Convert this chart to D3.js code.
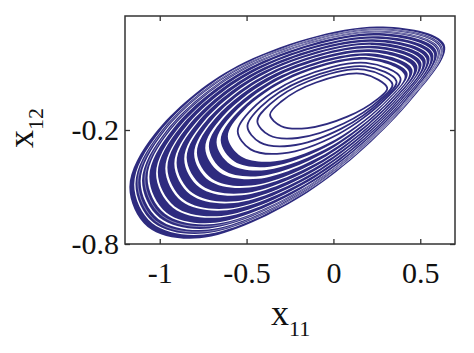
<!DOCTYPE html>
<meta charset="utf-8">
<script src="https://d3js.org/d3.v7.min.js"></script>
<body style="margin:0;background:#fff">
<div id="chart"></div>
</body>
<script>
// axis ticks
const xTicks = [-1, -0.5, 0, 0.5];
const yTicks = [-0.8, -0.2];

// band edges of the attractor, outside -> inside, filled blue / white in turn
// each loop: leftmost, lower-left, bottom, lower-right, near tip, tip, top, upper-left, left-upper
const stripeEdges = [
  [[-1.175,-0.500],[-1.070,-0.710],[-0.770,-0.770],[-0.150,-0.530],[0.450,-0.040],[0.640,0.250],[0.250,0.345],[-0.550,0.140],[-1.030,-0.220]],
  [[-1.147,-0.487],[-1.043,-0.691],[-0.748,-0.750],[-0.142,-0.516],[0.443,-0.040],[0.628,0.242],[0.247,0.336],[-0.534,0.137],[-1.004,-0.214]],
  [[-1.140,-0.484],[-1.037,-0.687],[-0.743,-0.745],[-0.140,-0.513],[0.441,-0.040],[0.626,0.240],[0.247,0.334],[-0.531,0.136],[-0.999,-0.213]],
  [[-1.110,-0.470],[-1.008,-0.668],[-0.720,-0.724],[-0.132,-0.498],[0.434,-0.040],[0.614,0.232],[0.244,0.325],[-0.514,0.133],[-0.972,-0.206]],
  [[-1.102,-0.466],[-1.001,-0.662],[-0.714,-0.718],[-0.129,-0.494],[0.432,-0.040],[0.610,0.229],[0.243,0.323],[-0.510,0.132],[-0.964,-0.205]],
  [[-1.070,-0.451],[-0.970,-0.641],[-0.689,-0.695],[-0.120,-0.478],[0.424,-0.040],[0.597,0.220],[0.240,0.313],[-0.492,0.128],[-0.935,-0.198]],
  [[-1.060,-0.446],[-0.961,-0.635],[-0.682,-0.688],[-0.117,-0.473],[0.422,-0.040],[0.593,0.217],[0.239,0.310],[-0.486,0.127],[-0.926,-0.196]],
  [[-1.021,-0.428],[-0.924,-0.609],[-0.652,-0.660],[-0.106,-0.454],[0.412,-0.040],[0.577,0.206],[0.235,0.298],[-0.465,0.123],[-0.891,-0.188]],
  [[-1.011,-0.423],[-0.914,-0.602],[-0.644,-0.652],[-0.103,-0.449],[0.409,-0.040],[0.573,0.203],[0.234,0.294],[-0.459,0.122],[-0.882,-0.186]],
  [[-0.968,-0.403],[-0.874,-0.575],[-0.612,-0.622],[-0.091,-0.428],[0.399,-0.040],[0.556,0.191],[0.230,0.281],[-0.435,0.117],[-0.844,-0.177]],
  [[-0.956,-0.397],[-0.862,-0.567],[-0.603,-0.613],[-0.088,-0.422],[0.396,-0.040],[0.551,0.188],[0.228,0.278],[-0.429,0.116],[-0.833,-0.174]],
  [[-0.916,-0.378],[-0.824,-0.540],[-0.572,-0.584],[-0.076,-0.402],[0.386,-0.040],[0.534,0.176],[0.224,0.265],[-0.406,0.111],[-0.796,-0.166]],
  [[-0.903,-0.372],[-0.811,-0.532],[-0.562,-0.575],[-0.073,-0.396],[0.383,-0.040],[0.529,0.173],[0.223,0.261],[-0.399,0.110],[-0.785,-0.163]],
  [[-0.859,-0.352],[-0.770,-0.503],[-0.528,-0.544],[-0.060,-0.374],[0.372,-0.040],[0.511,0.160],[0.219,0.248],[-0.375,0.105],[-0.745,-0.154]],
  [[-0.845,-0.345],[-0.756,-0.494],[-0.517,-0.533],[-0.056,-0.367],[0.368,-0.040],[0.505,0.156],[0.217,0.243],[-0.366,0.103],[-0.732,-0.151]],
  [[-0.802,-0.325],[-0.716,-0.466],[-0.485,-0.503],[-0.044,-0.346],[0.358,-0.040],[0.488,0.144],[0.213,0.230],[-0.343,0.099],[-0.694,-0.142]],
  [[-0.786,-0.318],[-0.700,-0.456],[-0.472,-0.492],[-0.040,-0.338],[0.354,-0.040],[0.482,0.140],[0.212,0.225],[-0.334,0.097],[-0.680,-0.138]],
  [[-0.738,-0.295],[-0.654,-0.424],[-0.435,-0.457],[-0.026,-0.314],[0.342,-0.040],[0.462,0.126],[0.207,0.210],[-0.307,0.091],[-0.636,-0.128]],
  [[-0.717,-0.285],[-0.635,-0.411],[-0.420,-0.442],[-0.020,-0.304],[0.337,-0.040],[0.454,0.120],[0.205,0.204],[-0.296,0.089],[-0.618,-0.124]],
  [[-0.673,-0.264],[-0.593,-0.381],[-0.386,-0.410],[-0.007,-0.282],[0.326,-0.040],[0.435,0.107],[0.200,0.190],[-0.271,0.084],[-0.577,-0.115]],
  [[-0.649,-0.253],[-0.570,-0.366],[-0.367,-0.393],[-0.001,-0.270],[0.320,-0.040],[0.426,0.101],[0.198,0.183],[-0.258,0.082],[-0.556,-0.110]],
  [[-0.608,-0.234],[-0.531,-0.339],[-0.336,-0.364],[0.011,-0.250],[0.310,-0.040],[0.409,0.089],[0.194,0.170],[-0.235,0.077],[-0.519,-0.101]]
];

// faint strands inside the outer dense band
const hairlines = [
  [[-1.126,-0.477],[-1.024,-0.678],[-0.733,-0.735],[-0.136,-0.506],[0.438,-0.040],[0.620,0.236],[0.245,0.330],[-0.523,0.135],[-0.986,-0.210]],
  [[-1.086,-0.458],[-0.985,-0.652],[-0.702,-0.706],[-0.125,-0.486],[0.428,-0.040],[0.604,0.225],[0.241,0.318],[-0.501,0.130],[-0.950,-0.202]]
];

// single orbits around the empty centre
const innerOrbits = [
  [[-0.551,-0.207],[-0.477,-0.302],[-0.293,-0.323],[0.027,-0.222],[0.296,-0.040],[0.386,0.073],[0.188,0.153],[-0.204,0.071],[-0.468,-0.089]],
  [[-0.495,-0.181],[-0.423,-0.265],[-0.249,-0.283],[0.043,-0.194],[0.282,-0.040],[0.363,0.057],[0.183,0.135],[-0.172,0.064],[-0.417,-0.077]],
  [[-0.438,-0.154],[-0.369,-0.228],[-0.206,-0.242],[0.059,-0.166],[0.268,-0.040],[0.340,0.041],[0.177,0.118],[-0.141,0.058],[-0.366,-0.065]],
  [[-0.365,-0.120],[-0.300,-0.180],[-0.150,-0.190],[0.080,-0.130],[0.250,-0.040],[0.310,0.020],[0.170,0.095],[-0.100,0.050],[-0.300,-0.050]]
];

const W = 474, H = 353;
const margin = {top: 16, right: 19, bottom: 109, left: 125},
  width = W - margin.left - margin.right,
  height = H - margin.top - margin.bottom;

const blue = "#2e2b7f";

const svg = d3.select("#chart")
  .append("svg")
    .attr("width", W)
    .attr("height", H)
  .append("g")
    .attr("transform", `translate(${margin.left},${margin.top})`);

const x = d3.scaleLinear().domain([-1.2, 0.7]).range([0, width]);
const y = d3.scaleLinear().domain([-0.8, 0.4]).range([height, 0]);

const line = d3.line()
  .x(d => x(d[0]))
  .y(d => y(d[1]))
  .curve(d3.curveCatmullRomClosed.alpha(0.5));

// alternating filled bands
svg.append("g")
  .selectAll("path")
  .data(stripeEdges)
  .join("path")
    .attr("d", line)
    .attr("fill", (d, i) => i % 2 === 0 ? blue : "#fff")
    .attr("stroke", "none");

svg.append("g")
  .selectAll("path")
  .data(hairlines)
  .join("path")
    .attr("d", line)
    .attr("fill", "none")
    .attr("stroke", "#fff")
    .attr("stroke-opacity", 0.7)
    .attr("stroke-width", 0.6);

svg.append("g")
  .selectAll("path")
  .data(innerOrbits)
  .join("path")
    .attr("d", line)
    .attr("fill", "none")
    .attr("stroke", blue)
    .attr("stroke-width", 1.8);

// axes, MATLAB style box with inward ticks
const fmt = d => String(d);
const font = "'Liberation Serif', 'DejaVu Serif', serif";

svg.append("g")
  .attr("transform", `translate(0,${height})`)
  .call(d3.axisBottom(x).tickValues(xTicks).tickFormat(fmt).tickSize(-5).tickPadding(18));
svg.append("g")
  .call(d3.axisLeft(y).tickValues(yTicks).tickFormat(fmt).tickSize(-5).tickPadding(6));
svg.append("g")
  .call(d3.axisTop(x).tickValues(xTicks).tickFormat("").tickSize(-5));
svg.append("g")
  .attr("transform", `translate(${width},0)`)
  .call(d3.axisRight(y).tickValues(yTicks).tickFormat("").tickSize(-5));

svg.selectAll(".domain").remove();
svg.selectAll(".tick line").attr("stroke", "#333").attr("stroke-width", 1.3);
svg.selectAll(".tick text")
  .style("font-family", font)
  .style("font-size", "30px")
  .attr("fill", "#111");

svg.append("rect")
  .attr("width", width)
  .attr("height", height)
  .attr("fill", "none")
  .attr("stroke", "#333")
  .attr("stroke-width", 1.5);

// axis titles
const xt = svg.append("text")
  .attr("x", 146)
  .attr("y", 309)
  .style("font-family", font)
  .style("font-size", "36px")
  .attr("fill", "#111")
  .text("x");
xt.append("tspan").attr("dy", 11).style("font-size", "22px").text("11");

const yt = svg.append("text")
  .attr("transform", `translate(${33 - margin.left},${148 - margin.top}) rotate(-90)`)
  .style("font-family", font)
  .style("font-size", "36px")
  .attr("fill", "#111")
  .text("x");
yt.append("tspan").attr("dy", 10).style("font-size", "22px").text("12");
</script>
